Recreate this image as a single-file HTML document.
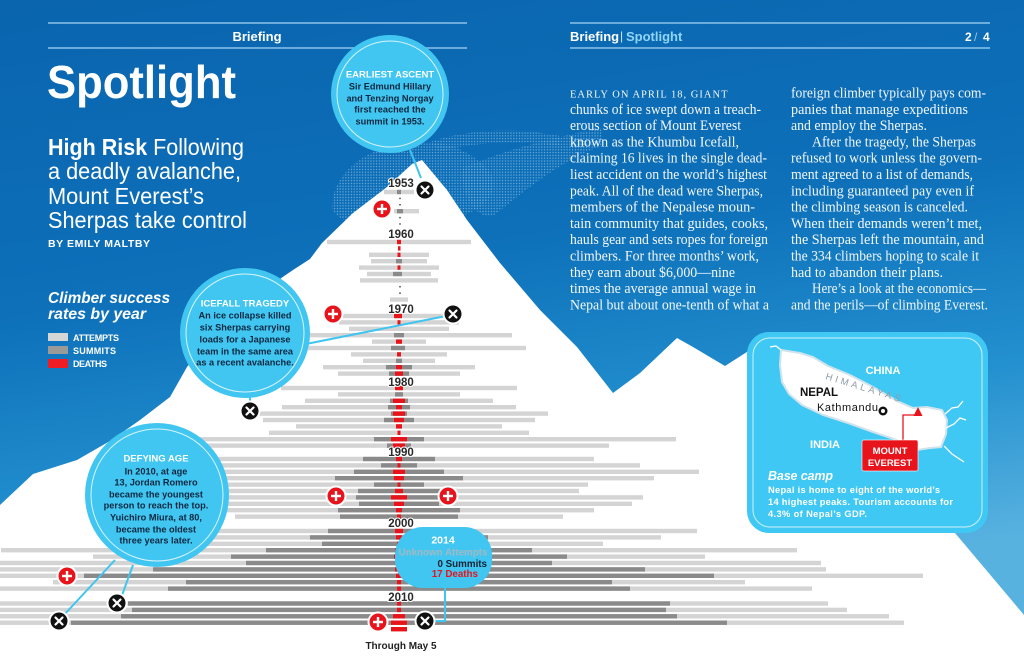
<!DOCTYPE html>
<html><head><meta charset="utf-8"><style>
html,body{margin:0;padding:0;width:1024px;height:660px;overflow:hidden;background:#0b68b2}
svg{display:block}
.sans{font-family:"Liberation Sans",Arial,sans-serif}
.serif{font-family:"Liberation Serif","Times New Roman",serif}
</style></head><body>
<svg width="1024" height="660" viewBox="0 0 1024 660" xmlns="http://www.w3.org/2000/svg">
<defs>
<linearGradient id="bg" x1="0" y1="0" x2="0.25" y2="1">
<stop offset="0" stop-color="#0a64ae"/>
<stop offset="0.45" stop-color="#0d70b9"/>
<stop offset="0.75" stop-color="#2390cf"/>
<stop offset="1" stop-color="#58b2e0"/>
</linearGradient>
<pattern id="dots" width="2.8" height="2.8" patternUnits="userSpaceOnUse">
<circle cx="1.4" cy="1.4" r="0.7" fill="#d8f0ff"/>
</pattern>
</defs>
<rect width="1024" height="660" fill="url(#bg)"/>

<!-- stipple cloud -->
<g opacity="0.5">
<path d="M332,208 C332,178 358,152 398,144 C440,136 472,150 490,172 C502,192 484,214 444,220 C400,226 340,232 332,208 Z" fill="url(#dots)"/>
<path d="M462,168 C505,150 550,138 602,128 L602,146 C566,158 530,186 496,214 C478,222 462,200 462,168 Z" fill="url(#dots)"/>
<path d="M430,142 C470,128 520,128 560,136 L560,146 C520,140 470,142 440,152 Z" fill="url(#dots)"/>
</g>

<!-- mountain -->
<path d="M0,505 L33,474 L77,460 L110,441 L140,420 L170,397 L187,367 L230,313 L293,270 L310,259 L322,243 L353,213 L387,187 L412,164 L422,160 L447,190 L467,220 L500,263 L540,310 L577,347 L613,393 L640,373 L677,338 L693,347 L725,366 L750,350 L760,360 L955,533 L1024,615 L1024,660 L0,660 Z" fill="#ffffff"/>

<!-- header left -->
<g class="sans">
<line x1="48" y1="23" x2="467" y2="23" stroke="#8cc3ea" stroke-width="1.6"/>
<line x1="48" y1="48" x2="467" y2="48" stroke="#8cc3ea" stroke-width="1.6"/>
<text x="257" y="41" fill="#fff" font-size="13" font-weight="bold" text-anchor="middle">Briefing</text>
<text x="47" y="98" fill="#fff" font-size="46" font-weight="bold" textLength="189" lengthAdjust="spacingAndGlyphs">Spotlight</text>
<text x="48" y="155" fill="#fff" font-size="23" textLength="196" lengthAdjust="spacingAndGlyphs"><tspan font-weight="bold">High Risk</tspan> Following</text>
<text x="48" y="179" fill="#fff" font-size="23" textLength="193" lengthAdjust="spacingAndGlyphs">a deadly avalanche,</text>
<text x="48" y="204" fill="#fff" font-size="23" textLength="156" lengthAdjust="spacingAndGlyphs">Mount Everest’s</text>
<text x="48" y="228" fill="#fff" font-size="23" textLength="199" lengthAdjust="spacingAndGlyphs">Sherpas take control</text>
<text x="48" y="247" fill="#fff" font-size="10.5" font-weight="bold" textLength="102">BY EMILY MALTBY</text>

<!-- legend -->
<text x="48" y="303" fill="#fff" font-size="15.5" font-weight="bold" font-style="italic" textLength="122" lengthAdjust="spacingAndGlyphs">Climber success</text>
<text x="48" y="319" fill="#fff" font-size="15.5" font-weight="bold" font-style="italic" textLength="98" lengthAdjust="spacingAndGlyphs">rates by year</text>
<rect x="48" y="333" width="20" height="8" fill="#d6d6d6"/>
<rect x="48" y="346" width="20" height="8" fill="#9a9a9a"/>
<rect x="48" y="359" width="20" height="9" fill="#ee1c24"/>
<text x="73" y="341" fill="#fff" font-size="9" font-weight="bold" textLength="46">ATTEMPTS</text>
<text x="73" y="354" fill="#fff" font-size="9" font-weight="bold" textLength="43">SUMMITS</text>
<text x="73" y="367" fill="#fff" font-size="9" font-weight="bold" textLength="34">DEATHS</text>
</g>

<!-- header right -->
<g class="sans">
<line x1="570" y1="23" x2="990" y2="23" stroke="#8cc3ea" stroke-width="1.6"/>
<line x1="570" y1="48" x2="990" y2="48" stroke="#8cc3ea" stroke-width="1.6"/>
<text x="570" y="41" fill="#fff" font-size="13" font-weight="bold">Briefing</text>
<text x="620" y="40" fill="#cfe6f6" font-size="12">|</text>
<text x="626" y="41" fill="#8fd6f7" font-size="13" font-weight="bold">Spotlight</text>
<text x="965" y="41" fill="#fff" font-size="12" font-weight="bold">2</text>
<text x="974" y="41" fill="#9cc6e6" font-size="12">/</text>
<text x="983" y="41" fill="#fff" font-size="12" font-weight="bold">4</text>
</g>

<!-- body text -->
<g class="serif" fill="#f2f7fb" font-size="14.2">
<text x="570" y="97.5" font-size="10.5" letter-spacing="1.5" textLength="159">EARLY ON APRIL 18, GIANT</text>
<text x="570" y="113.8" textLength="191" lengthAdjust="spacingAndGlyphs">chunks of ice swept down a treach-</text>
<text x="570" y="130.1" textLength="171" lengthAdjust="spacingAndGlyphs">erous section of Mount Everest</text>
<text x="570" y="146.4" textLength="169" lengthAdjust="spacingAndGlyphs">known as the Khumbu Icefall,</text>
<text x="570" y="162.7" textLength="197" lengthAdjust="spacingAndGlyphs">claiming 16 lives in the single dead-</text>
<text x="570" y="179" textLength="197" lengthAdjust="spacingAndGlyphs">liest accident on the world’s highest</text>
<text x="570" y="195.3" textLength="193" lengthAdjust="spacingAndGlyphs">peak. All of the dead were Sherpas,</text>
<text x="570" y="211.6" textLength="185" lengthAdjust="spacingAndGlyphs">members of the Nepalese moun-</text>
<text x="570" y="227.9" textLength="198" lengthAdjust="spacingAndGlyphs">tain community that guides, cooks,</text>
<text x="570" y="244.2" textLength="198" lengthAdjust="spacingAndGlyphs">hauls gear and sets ropes for foreign</text>
<text x="570" y="260.5" textLength="189" lengthAdjust="spacingAndGlyphs">climbers. For three months’ work,</text>
<text x="570" y="276.8" textLength="165" lengthAdjust="spacingAndGlyphs">they earn about $6,000—nine</text>
<text x="570" y="293.1" textLength="186" lengthAdjust="spacingAndGlyphs">times the average annual wage in</text>
<text x="570" y="309.4" textLength="199" lengthAdjust="spacingAndGlyphs">Nepal but about one-tenth of what a</text>

<text x="791" y="97.5" textLength="195" lengthAdjust="spacingAndGlyphs">foreign climber typically pays com-</text>
<text x="791" y="113.8" textLength="177" lengthAdjust="spacingAndGlyphs">panies that manage expeditions</text>
<text x="791" y="130.1" textLength="136" lengthAdjust="spacingAndGlyphs">and employ the Sherpas.</text>
<text x="812" y="146.4" textLength="164" lengthAdjust="spacingAndGlyphs">After the tragedy, the Sherpas</text>
<text x="791" y="162.7" textLength="191" lengthAdjust="spacingAndGlyphs">refused to work unless the govern-</text>
<text x="791" y="179" textLength="182" lengthAdjust="spacingAndGlyphs">ment agreed to a list of demands,</text>
<text x="791" y="195.3" textLength="183" lengthAdjust="spacingAndGlyphs">including guaranteed pay even if</text>
<text x="791" y="211.6" textLength="177" lengthAdjust="spacingAndGlyphs">the climbing season is canceled.</text>
<text x="791" y="227.9" textLength="191" lengthAdjust="spacingAndGlyphs">When their demands weren’t met,</text>
<text x="791" y="244.2" textLength="193" lengthAdjust="spacingAndGlyphs">the Sherpas left the mountain, and</text>
<text x="791" y="260.5" textLength="188" lengthAdjust="spacingAndGlyphs">the 334 climbers hoping to scale it</text>
<text x="791" y="276.8" textLength="152" lengthAdjust="spacingAndGlyphs">had to abandon their plans.</text>
<text x="812" y="293.1" textLength="174" lengthAdjust="spacingAndGlyphs">Here’s a look at the economics—</text>
<text x="791" y="309.4" textLength="197" lengthAdjust="spacingAndGlyphs">and the perils—of climbing Everest.</text>
</g>

<!-- bars -->
<g>
<g fill="#d4d4d4">
<rect x="384" y="189.8" width="30" height="4.4"/>
<rect x="394" y="209" width="25" height="4.4"/>
<rect x="327" y="239.8" width="144" height="4.4"/>
<rect x="369" y="252.6" width="60" height="4.4"/>
<rect x="371" y="259" width="56" height="4.4"/>
<rect x="359" y="265.4" width="80" height="4.4"/>
<rect x="367" y="271.8" width="64" height="4.4"/>
<rect x="360" y="278.2" width="78" height="4.4"/>
<rect x="390" y="297.4" width="18" height="4.4"/>
<rect x="343" y="313.8" width="112" height="4.4"/>
<rect x="339" y="320.2" width="120" height="4.4"/>
<rect x="349" y="326.6" width="100" height="4.4"/>
<rect x="286" y="333" width="226" height="4.4"/>
<rect x="372" y="339.4" width="54" height="4.4"/>
<rect x="272" y="345.8" width="254" height="4.4"/>
<rect x="351" y="352.2" width="96" height="4.4"/>
<rect x="363" y="358.6" width="72" height="4.4"/>
<rect x="323" y="365" width="152" height="4.4"/>
<rect x="338" y="371.4" width="122" height="4.4"/>
<rect x="281" y="385.8" width="236" height="4.4"/>
<rect x="338" y="392.2" width="122" height="4.4"/>
<rect x="305" y="398.6" width="188" height="4.4"/>
<rect x="282" y="405" width="234" height="4.4"/>
<rect x="250" y="411.4" width="298" height="4.4"/>
<rect x="263" y="417.8" width="272" height="4.4"/>
<rect x="296" y="424.2" width="206" height="4.4"/>
<rect x="269" y="430.6" width="260" height="4.4"/>
<rect x="122" y="437" width="554" height="4.4"/>
<rect x="189" y="443.4" width="420" height="4.4"/>
<rect x="204" y="456.8" width="390" height="4.4"/>
<rect x="158" y="463.2" width="482" height="4.4"/>
<rect x="99" y="469.6" width="600" height="4.4"/>
<rect x="144" y="476" width="510" height="4.4"/>
<rect x="210" y="482.4" width="378" height="4.4"/>
<rect x="219" y="488.8" width="360" height="4.4"/>
<rect x="155" y="495.2" width="488" height="4.4"/>
<rect x="166" y="501.6" width="466" height="4.4"/>
<rect x="204" y="508" width="390" height="4.4"/>
<rect x="235" y="514.4" width="328" height="4.4"/>
<rect x="101" y="528.8" width="596" height="4.4"/>
<rect x="137" y="535.2" width="524" height="4.4"/>
<rect x="195" y="541.6" width="408" height="4.4"/>
<rect x="1" y="548" width="796" height="4.4"/>
<rect x="93" y="554.4" width="612" height="4.4"/>
<rect x="0" y="560.8" width="821" height="4.4"/>
<rect x="0" y="567.2" width="826" height="4.4"/>
<rect x="0" y="573.6" width="923" height="4.4"/>
<rect x="53" y="580" width="692" height="4.4"/>
<rect x="0" y="586.4" width="812" height="4.4"/>
<rect x="0" y="601.3" width="828" height="4.4"/>
<rect x="0" y="607.7" width="847" height="4.4"/>
<rect x="0" y="614.1" width="889" height="4.4"/>
<rect x="0" y="620.5" width="904" height="4.4"/>
</g>
<g fill="#8a8a8a">
<rect x="397" y="189.8" width="4" height="4.4"/>
<rect x="397" y="209" width="6" height="4.4"/>
<rect x="396" y="259" width="6" height="4.4"/>
<rect x="393" y="271.8" width="9" height="4.4"/>
<rect x="394" y="333" width="10" height="4.4"/>
<rect x="391" y="345.8" width="14" height="4.4"/>
<rect x="396" y="358.6" width="6" height="4.4"/>
<rect x="386" y="365" width="26" height="4.4"/>
<rect x="389" y="371.4" width="20" height="4.4"/>
<rect x="396" y="385.8" width="6" height="4.4"/>
<rect x="395" y="392.2" width="8" height="4.4"/>
<rect x="390" y="398.6" width="18" height="4.4"/>
<rect x="388" y="405" width="22" height="4.4"/>
<rect x="391" y="411.4" width="16" height="4.4"/>
<rect x="384" y="417.8" width="30" height="4.4"/>
<rect x="374" y="437" width="50" height="4.4"/>
<rect x="387" y="443.4" width="24" height="4.4"/>
<rect x="363" y="456.8" width="72" height="4.4"/>
<rect x="381" y="463.2" width="36" height="4.4"/>
<rect x="354" y="469.6" width="90" height="4.4"/>
<rect x="335" y="476" width="128" height="4.4"/>
<rect x="374" y="482.4" width="50" height="4.4"/>
<rect x="358" y="488.8" width="82" height="4.4"/>
<rect x="356" y="495.2" width="86" height="4.4"/>
<rect x="359" y="501.6" width="80" height="4.4"/>
<rect x="338" y="508" width="122" height="4.4"/>
<rect x="340" y="514.4" width="118" height="4.4"/>
<rect x="328" y="528.8" width="142" height="4.4"/>
<rect x="310" y="535.2" width="178" height="4.4"/>
<rect x="322" y="541.6" width="154" height="4.4"/>
<rect x="266" y="548" width="266" height="4.4"/>
<rect x="231" y="554.4" width="336" height="4.4"/>
<rect x="246" y="560.8" width="306" height="4.4"/>
<rect x="153" y="567.2" width="492" height="4.4"/>
<rect x="84" y="573.6" width="630" height="4.4"/>
<rect x="186" y="580" width="426" height="4.4"/>
<rect x="168" y="586.4" width="462" height="4.4"/>
<rect x="128" y="601.3" width="542" height="4.4"/>
<rect x="132" y="607.7" width="534" height="4.4"/>
<rect x="121" y="614.1" width="556" height="4.4"/>
<rect x="71" y="620.5" width="656" height="4.4"/>
</g>
<g fill="#e8141c">
<rect x="397" y="239.8" width="4" height="4.4"/>
<rect x="398" y="246.2" width="2.5" height="4.4"/>
<rect x="397.5" y="252.6" width="3" height="4.4"/>
<rect x="397.5" y="265.4" width="3" height="4.4"/>
<rect x="394" y="313.8" width="8" height="4.4"/>
<rect x="397.5" y="320.2" width="3" height="4.4"/>
<rect x="396" y="339.4" width="6" height="4.4"/>
<rect x="397" y="352.2" width="4" height="4.4"/>
<rect x="396" y="365" width="6" height="4.4"/>
<rect x="395" y="371.4" width="8" height="4.4"/>
<rect x="395" y="385.8" width="8" height="4.4"/>
<rect x="393" y="398.6" width="12" height="4.4"/>
<rect x="396" y="405" width="6" height="4.4"/>
<rect x="393" y="411.4" width="12" height="4.4"/>
<rect x="394" y="417.8" width="10" height="4.4"/>
<rect x="396" y="424.2" width="6" height="4.4"/>
<rect x="397.5" y="430.6" width="3" height="4.4"/>
<rect x="391" y="437" width="16" height="4.4"/>
<rect x="393" y="443.4" width="12" height="4.4"/>
<rect x="396" y="456.8" width="6" height="4.4"/>
<rect x="397.5" y="463.2" width="3" height="4.4"/>
<rect x="393" y="469.6" width="12" height="4.4"/>
<rect x="394" y="476" width="10" height="4.4"/>
<rect x="397.5" y="482.4" width="3" height="4.4"/>
<rect x="395" y="488.8" width="8" height="4.4"/>
<rect x="391" y="495.2" width="16" height="4.4"/>
<rect x="394" y="501.6" width="10" height="4.4"/>
<rect x="396" y="508" width="6" height="4.4"/>
<rect x="397" y="514.4" width="4" height="4.4"/>
<rect x="395" y="528.8" width="8" height="4.4"/>
<rect x="396" y="535.2" width="6" height="4.4"/>
<rect x="397" y="541.6" width="4" height="4.4"/>
<rect x="395" y="548" width="8" height="4.4"/>
<rect x="394" y="554.4" width="10" height="4.4"/>
<rect x="396" y="560.8" width="6" height="4.4"/>
<rect x="395" y="567.2" width="8" height="4.4"/>
<rect x="396" y="573.6" width="6" height="4.4"/>
<rect x="397" y="580" width="4" height="4.4"/>
<rect x="397" y="586.4" width="4" height="4.4"/>
<rect x="397" y="601.3" width="4" height="4.4"/>
<rect x="397" y="607.7" width="4" height="4.4"/>
<rect x="393" y="614.1" width="12" height="4.4"/>
<rect x="391" y="620.5" width="16" height="4.4"/>
<rect x="391" y="627" width="16" height="4.4"/>
</g>
<g fill="#555">
<circle cx="400" cy="198.4" r="0.9"/><circle cx="400" cy="204.8" r="0.9"/>
<circle cx="400" cy="217.6" r="0.9"/><circle cx="400" cy="224" r="0.9"/>
<circle cx="400" cy="230.4" r="0.9"/><circle cx="400" cy="286.8" r="0.9"/>
<circle cx="400" cy="293.2" r="0.9"/>
</g>
</g>

<!-- year labels -->
<g class="sans" font-size="11.5" font-weight="bold" fill="#2a2a2a" text-anchor="middle" stroke="#ffffff" stroke-width="2" paint-order="stroke">
<text x="401" y="187">1953</text>
<text x="401" y="238">1960</text>
<text x="401" y="313">1970</text>
<text x="401" y="386">1980</text>
<text x="401" y="456">1990</text>
<text x="401" y="527">2000</text>
<text x="401" y="601">2010</text>
<text x="401" y="649" font-size="10" fill="#222">Through May 5</text>
</g>

<!-- connector lines -->
<g stroke="#3fc5f0" stroke-width="2" fill="none">
<line x1="410" y1="150" x2="421" y2="178"/>
<line x1="306" y1="344" x2="446" y2="316"/>
<line x1="250" y1="396" x2="250" y2="403"/>
<line x1="115" y1="560" x2="63" y2="616"/>
<line x1="133" y1="565" x2="121" y2="598"/>
<polyline points="445,586 445,621 433,621"/>
</g>

<!-- callout circles -->
<g class="sans">
<circle cx="390" cy="94" r="59" fill="#41c6f1"/>
<circle cx="390" cy="94" r="53" fill="none" stroke="#ffffff" stroke-opacity="0.8" stroke-width="1"/>
<text x="390" y="77.5" fill="#fff" font-size="9.5" font-weight="bold" text-anchor="middle">EARLIEST ASCENT</text>
<g fill="#0c2740" font-size="9.2" font-weight="bold" text-anchor="middle">
<text x="390" y="89.5">Sir Edmund Hillary</text>
<text x="390" y="101.5">and Tenzing Norgay</text>
<text x="390" y="112.5">first reached the</text>
<text x="390" y="124.5">summit in 1953.</text>
</g>

<circle cx="245" cy="333" r="65" fill="#41c6f1"/>
<circle cx="245" cy="333" r="59" fill="none" stroke="#ffffff" stroke-opacity="0.8" stroke-width="1"/>
<text x="245" y="306.5" fill="#fff" font-size="9.5" font-weight="bold" text-anchor="middle">ICEFALL TRAGEDY</text>
<g fill="#0c2740" font-size="9.2" font-weight="bold" text-anchor="middle">
<text x="245" y="318.5">An ice collapse killed</text>
<text x="245" y="330.5">six Sherpas carrying</text>
<text x="245" y="342.5">loads for a Japanese</text>
<text x="245" y="354.5">team in the same area</text>
<text x="245" y="365.5">as a recent avalanche.</text>
</g>

<circle cx="157" cy="495" r="72" fill="#41c6f1"/>
<circle cx="157" cy="495" r="66" fill="none" stroke="#ffffff" stroke-opacity="0.8" stroke-width="1"/>
<text x="156" y="461.5" fill="#fff" font-size="9.5" font-weight="bold" text-anchor="middle">DEFYING AGE</text>
<g fill="#0c2740" font-size="9.2" font-weight="bold" text-anchor="middle">
<text x="156" y="474.5">In 2010, at age</text>
<text x="156" y="485.5">13, Jordan Romero</text>
<text x="156" y="497.5">became the youngest</text>
<text x="156" y="508.5">person to reach the top.</text>
<text x="156" y="520.5">Yuichiro Miura, at 80,</text>
<text x="156" y="532.5">became the oldest</text>
<text x="156" y="543.5">three years later.</text>
</g>

<rect x="395" y="527" width="97" height="61" rx="28" fill="#41c6f1"/>
<text x="443" y="543.5" fill="#fff" font-size="10.5" font-weight="bold" text-anchor="middle">2014</text>
<text x="443" y="555.5" fill="#a2b9c3" font-size="9.8" font-weight="bold" text-anchor="middle">Unknown Attempts</text>
<text x="487" y="567" fill="#0e2233" font-size="9.8" font-weight="bold" text-anchor="end">0 Summits</text>
<text x="478" y="577" fill="#e8141c" font-size="9.8" font-weight="bold" text-anchor="end">17 Deaths</text>
</g>

<!-- icons: red plus -->
<g>
<g transform="translate(382,209)"><circle r="10.5" fill="#fff"/><circle r="8.5" fill="#e8141c"/><rect x="-5" y="-1.2" width="10" height="2.4" fill="#fff"/><rect x="-1.2" y="-5" width="2.4" height="10" fill="#fff"/></g>
<g transform="translate(333,314)"><circle r="10.5" fill="#fff"/><circle r="8.5" fill="#e8141c"/><rect x="-5" y="-1.2" width="10" height="2.4" fill="#fff"/><rect x="-1.2" y="-5" width="2.4" height="10" fill="#fff"/></g>
<g transform="translate(336,496)"><circle r="10.5" fill="#fff"/><circle r="8.5" fill="#e8141c"/><rect x="-5" y="-1.2" width="10" height="2.4" fill="#fff"/><rect x="-1.2" y="-5" width="2.4" height="10" fill="#fff"/></g>
<g transform="translate(448,496)"><circle r="10.5" fill="#fff"/><circle r="8.5" fill="#e8141c"/><rect x="-5" y="-1.2" width="10" height="2.4" fill="#fff"/><rect x="-1.2" y="-5" width="2.4" height="10" fill="#fff"/></g>
<g transform="translate(67,576)"><circle r="10.5" fill="#fff"/><circle r="8.5" fill="#e8141c"/><rect x="-5" y="-1.2" width="10" height="2.4" fill="#fff"/><rect x="-1.2" y="-5" width="2.4" height="10" fill="#fff"/></g>
<g transform="translate(378,622)"><circle r="10.5" fill="#fff"/><circle r="8.5" fill="#e8141c"/><rect x="-5" y="-1.2" width="10" height="2.4" fill="#fff"/><rect x="-1.2" y="-5" width="2.4" height="10" fill="#fff"/></g>
</g>
<!-- icons: black X -->
<g stroke-linecap="round">
<g transform="translate(425,190)"><circle r="10.5" fill="#fff"/><circle r="8.5" fill="#111"/><path d="M-3.5,-3.5L3.5,3.5M3.5,-3.5L-3.5,3.5" stroke="#fff" stroke-width="2.2"/></g>
<g transform="translate(453,314)"><circle r="10.5" fill="#fff"/><circle r="8.5" fill="#111"/><path d="M-3.5,-3.5L3.5,3.5M3.5,-3.5L-3.5,3.5" stroke="#fff" stroke-width="2.2"/></g>
<g transform="translate(250,411)"><circle r="10.5" fill="#fff"/><circle r="8.5" fill="#111"/><path d="M-3.5,-3.5L3.5,3.5M3.5,-3.5L-3.5,3.5" stroke="#fff" stroke-width="2.2"/></g>
<g transform="translate(117,603)"><circle r="10.5" fill="#fff"/><circle r="8.5" fill="#111"/><path d="M-3.5,-3.5L3.5,3.5M3.5,-3.5L-3.5,3.5" stroke="#fff" stroke-width="2.2"/></g>
<g transform="translate(59,621)"><circle r="10.5" fill="#fff"/><circle r="8.5" fill="#111"/><path d="M-3.5,-3.5L3.5,3.5M3.5,-3.5L-3.5,3.5" stroke="#fff" stroke-width="2.2"/></g>
<g transform="translate(425,621)"><circle r="10.5" fill="#fff"/><circle r="8.5" fill="#111"/><path d="M-3.5,-3.5L3.5,3.5M3.5,-3.5L-3.5,3.5" stroke="#fff" stroke-width="2.2"/></g>
</g>

<!-- map box -->
<g class="sans">
<rect x="747" y="332" width="241" height="201" rx="22" fill="#40c8f4"/>
<rect x="753" y="338" width="229" height="189" rx="17" fill="none" stroke="#ffffff" stroke-opacity="0.75" stroke-width="1"/>
<path d="M781,350 L800,353 L813,357 L828,366 L850,375 L873,387 L897,401 L913,408 L927,407 L942,410 L947,420 L946,434 L941,447 L930,448 L917,450 L897,440 L873,432 L848,423 L823,415 L802,405 L789,394 L782,382 L780,365 Z" fill="#ffffff" stroke="#cfe3ec" stroke-width="2"/>
<g stroke="#ffffff" stroke-width="1.3" fill="none">
<polyline points="781,350 776,346 770,347"/>
<polyline points="945,414 952,408 958,407 963,401"/>
<polyline points="946,428 954,424 960,418 966,420"/>
<polyline points="944,446 952,454 958,458 964,462"/>
</g>
<text x="883" y="374" fill="#fff" font-size="11" font-weight="bold" text-anchor="middle">CHINA</text>
<text x="825" y="379" fill="#8e9ca6" font-size="9.5" letter-spacing="2" transform="rotate(17 825 379)" textLength="80">HIMALAYAS</text>
<text x="800" y="396" fill="#111" font-size="11.5" font-weight="bold" textLength="38">NEPAL</text>
<text x="817" y="411" fill="#111" font-size="11" textLength="61">Kathmandu</text>
<circle cx="883" cy="411" r="4.5" fill="#111"/>
<circle cx="883" cy="411" r="2" fill="#fff"/>
<text x="825" y="448" fill="#fff" font-size="11" font-weight="bold" text-anchor="middle">INDIA</text>
<polyline points="903,440 903,415 915,415" fill="none" stroke="#e8141c" stroke-width="1.3"/>
<path d="M918,407 L913.5,416 L922.5,416 Z" fill="#e8141c"/>
<rect x="862" y="440" width="56" height="31" rx="2" fill="#e8141c" stroke="#ffffff" stroke-opacity="0.6" stroke-width="1"/>
<text x="890" y="454" fill="#fff" font-size="9.5" font-weight="bold" text-anchor="middle">MOUNT</text>
<text x="890" y="466" fill="#fff" font-size="9.5" font-weight="bold" text-anchor="middle">EVEREST</text>
<text x="768" y="480" fill="#fff" font-size="12.5" font-weight="bold" font-style="italic" textLength="65">Base camp</text>
<text x="768" y="493" fill="#fff" font-size="9.3" font-weight="bold" textLength="172">Nepal is home to eight of the world’s</text>
<text x="768" y="505" fill="#fff" font-size="9.3" font-weight="bold" textLength="185">14 highest peaks. Tourism accounts for</text>
<text x="768" y="517" fill="#fff" font-size="9.3" font-weight="bold" textLength="99">4.3% of Nepal’s GDP.</text>
</g>
</svg>
</body></html>
